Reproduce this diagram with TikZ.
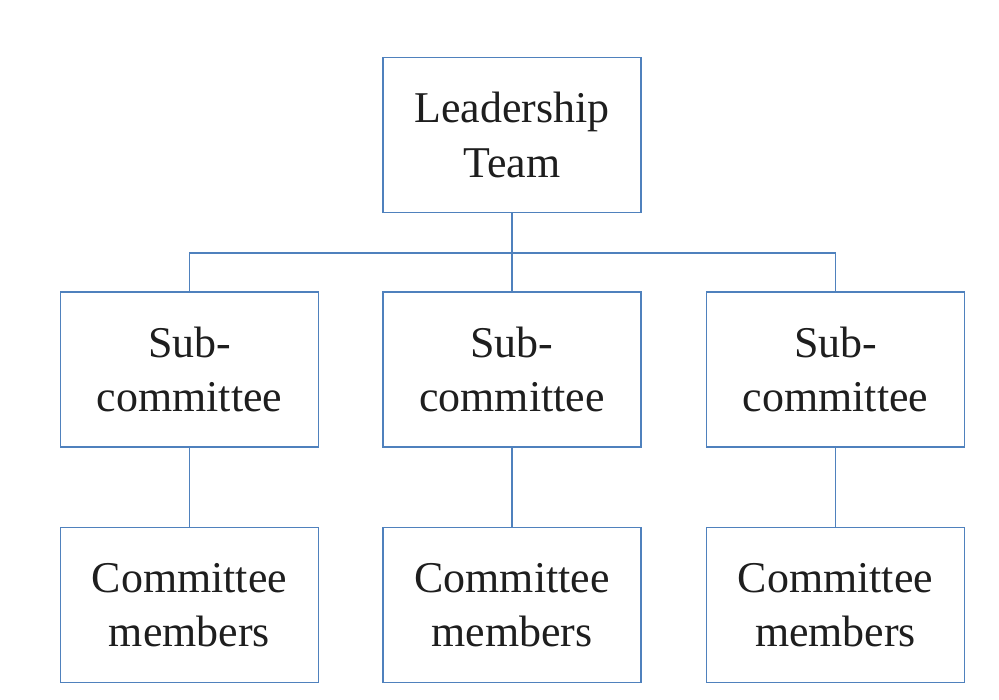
\documentclass[tikz,border=0pt]{standalone}
\usepackage{fontspec}
\setmainfont{Liberation Serif}
\usetikzlibrary{positioning}
\definecolor{boxline}{RGB}{79, 129, 189}
\definecolor{textcol}{RGB}{30, 30, 30}

\begin{document}
\begin{tikzpicture}[
    x=0.02cm, y=-0.02cm,
    unit/.style={draw=boxline, line width=0.8pt, fill=white, minimum width=5.16cm, minimum height=3.1cm, font=\fontsize{25}{31}\selectfont, text=textcol, align=center},
    link/.style={draw=boxline, line width=0.8pt}
]
    \useasboundingbox (0,0) rectangle (999,699);
    % Nodes - top
    \node[unit] (lead) at (512,135) {Leadership\\Team};

    % Nodes - middle row
    \node[unit] (subA) at (189.5,369.5) {Sub-\\committee};
    \node[unit] (subB) at (512,369.5) {Sub-\\committee};
    \node[unit] (subC) at (835.5,369.5) {Sub-\\committee};

    % Nodes - bottom row
    \node[unit] (memA) at (189.5,605) {Committee\\members};
    \node[unit] (memB) at (512,605) {Committee\\members};
    \node[unit] (memC) at (835.5,605) {Committee\\members};

    % Connectors
    \coordinate (bar) at (512,253);
    \draw[link] (lead.south) -- (bar);
    \draw[link] (subA.north) |- (bar) -| (subC.north);
    \draw[link] (bar) -- (subB.north);
    \draw[link] (subA) -- (memA);
    \draw[link] (subB) -- (memB);
    \draw[link] (subC) -- (memC);
\end{tikzpicture}
\end{document}
